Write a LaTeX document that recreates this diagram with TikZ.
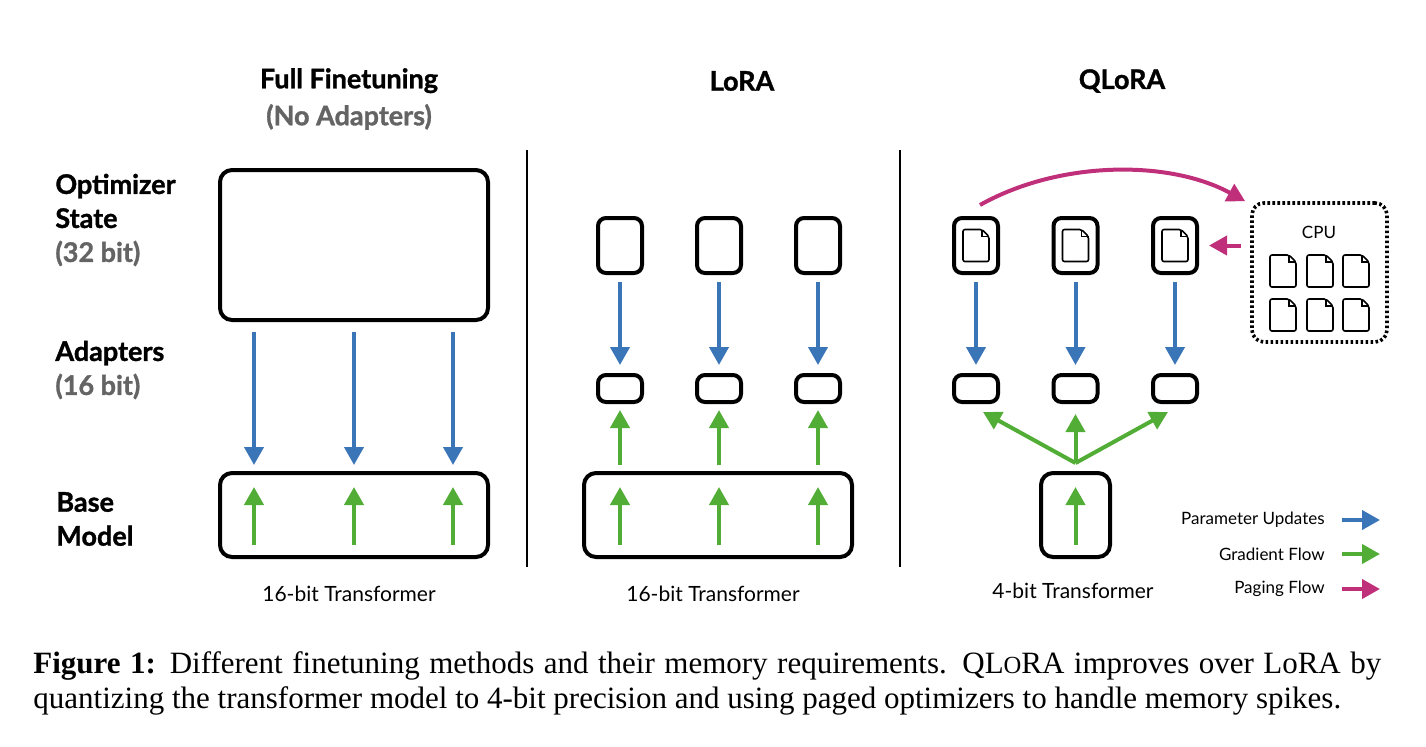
\documentclass[tikz,border=0pt]{standalone}
\usepackage{fontspec}
\setmainfont{Liberation Serif}
\newfontfamily\avfont{Lato}
\newfontfamily\heavyfont[BoldFeatures={FakeBold=1.2}]{Lato}
\usetikzlibrary{arrows.meta,positioning}

\definecolor{updblue}{RGB}{58,117,184}
\definecolor{gradgreen}{RGB}{82,173,54}
\definecolor{pagpink}{RGB}{192,48,122}
\definecolor{labgray}{RGB}{100,100,100}

\tikzset{pagefile/.pic={
    \draw[line width=0.8pt,rounded corners=1pt] (-6.5pt,-8pt) -- (-6.5pt,8pt) -- (3pt,8pt) -- (6.5pt,4.5pt) -- (6.5pt,-8pt) -- cycle;
    \draw[line width=0.6pt] (3pt,8pt) -- (3pt,4.5pt) -- (6.5pt,4.5pt);
}}

\begin{document}
\begin{tikzpicture}[x=0.5pt,y=-0.5pt,
    box/.style={draw,line width=2pt,rounded corners=6pt,inner sep=0pt},
    sbox/.style={box,rounded corners=4pt,minimum width=22pt},
    upd/.style={updblue,line width=2pt,-{Triangle[width=9.5pt,length=9pt]}},
    grad/.style={gradgreen,line width=2pt,-{Triangle[width=9.5pt,length=9pt]}},
    pag/.style={pagpink,line width=2pt,-{Triangle[width=9.5pt,length=9pt]}},
    head/.style={font=\heavyfont\bfseries\fontsize{13.5}{18.5}\selectfont,align=center},
    rowlab/.style={font=\heavyfont\bfseries\fontsize{13.5}{17}\selectfont,align=left,anchor=west,inner sep=0pt},
    sub/.style={font=\avfont\fontsize{10.5}{12}\selectfont},
    legend/.style={font=\avfont\fontsize{8.5}{10}\selectfont,anchor=east,inner sep=0pt}]
  \useasboundingbox (0,0) rectangle (1426,746);

  % column titles and separators
  \node[head] (tfull) at (349,99) {Full Finetuning\\\textcolor{labgray}{(No Adapters)}};
  \node[head] (tlora) at (742,81) {LoRA};
  \node[head] (tqlora) at (1122,81) {QLoRA};
  \draw[line width=0.8pt] (527,150) -- (527,567) (900,150) -- (900,567);

  % row labels
  \node[rowlab] (lopt) at (55,220) {Optimizer\\State\\\textcolor{labgray}{(32 bit)}};
  \node[rowlab] (lada) at (55,370) {Adapters\\\textcolor{labgray}{(16 bit)}};
  \node[rowlab] (lbas) at (56,519) {Base\\Model};

  % full finetuning
  \node[box,minimum width=134pt,minimum height=75pt] (fopt) at (354,245) {};
  \node[box,minimum width=134pt,minimum height=42pt] (fbase) at (354,515) {};
  \foreach \x in {254,354,453} {
    \draw[upd,shorten <=5pt,shorten >=3pt] (fopt.south -| \x,0) -- (fbase.north -| \x,0);
    \draw[grad] (fbase.south -| \x,0) ++(0,-14) -- ++(0,-58);
  }
  \node[sub] (nfull) at (349,594) {16-bit Transformer};

  % lora
  \foreach \i/\x in {1/620,2/719,3/818} {
    \node[sbox,minimum height=27.5pt] (lo\i) at (\x,245.5) {};
    \node[sbox,minimum height=13.5pt] (la\i) at (\x,388.5) {};
  }
  \node[box,minimum width=134pt,minimum height=42pt] (lbase) at (718,515) {};
  \foreach \i in {1,2,3} {
    \draw[upd,shorten <=3.5pt,shorten >=4pt] (lo\i) -- (la\i);
    \draw[grad,shorten <=3pt,shorten >=3pt] (lbase.north -| la\i) -- (la\i.south);
    \draw[grad] (lbase.south -| la\i) ++(0,-14) -- ++(0,-58);
  }
  \node[sub] (nlora) at (713,594) {16-bit Transformer};

  % qlora
  \foreach \i/\x in {1/976,2/1075.5,3/1175} {
    \node[sbox,minimum height=27.5pt] (q\i) at (\x,245.5) {};
    \pic at (q\i) {pagefile};
    \node[sbox,minimum height=13.5pt] (qa\i) at (\x,388.5) {};
    \draw[upd,shorten <=3.5pt,shorten >=4pt] (q\i) -- (qa\i);
  }
  \node[box,minimum width=34.5pt,minimum height=42pt] (qbase) at (1075.5,515) {};
  \coordinate (fan) at ([yshift=4pt]qbase.north);
  \draw[grad] (fan) -- ([xshift=3.5pt,yshift=-4pt]qa1.south);
  \draw[grad] (fan) -- ([yshift=-5pt]qa2.south);
  \draw[grad] (fan) -- ([xshift=-3.5pt,yshift=-4pt]qa3.south);
  \draw[grad] (qbase.south) ++(0,-14) -- ++(0,-58);
  \node[sub] (nqlora) at (1073,591) {4-bit Transformer};

  % cpu with paged files
  \node[draw,line width=1.8pt,dash pattern=on 1.3pt off 1.2pt,rounded corners=6pt,
    minimum width=67.5pt,minimum height=69.5pt] (cpu) at (1319.5,272.5) {};
  \node[font=\avfont\fontsize{8.5}{10}\selectfont] (cpulab) at (1319,232) {CPU};
  \foreach \x in {1283,1320,1356}
    \foreach \y in {271,315}
      \pic at (\x,\y) {pagefile};
  \draw[pag] ([xshift=2pt,yshift=5.5pt]q1.north) .. controls (1060,160) and (1170,160) .. ([xshift=-2.5pt]cpu.north west);
  \draw[pag,shorten <=4.5pt,shorten >=5pt] (cpu.west |- q3) -- (q3.east);

  % legend
  \node[legend] (kupd) at (1325,520) {Parameter Updates};
  \node[legend] (kgrad) at (1325,554) {Gradient Flow};
  \node[legend] (kpag) at (1325,589) {Paging Flow};
  \draw[upd] ([xshift=8.5pt]kupd.east) -- ++(38,0);
  \draw[grad] ([xshift=8.5pt]kgrad.east) -- ++(38,0);
  \draw[pag] ([xshift=8.5pt]kpag.east) -- ++(38,0);

  % caption
  \node[anchor=north west,text width=674pt,align=justify,inner sep=0pt,
    font=\fontsize{15.5}{17.5}\selectfont] (cap) at (33,651)
    {\textbf{Figure 1:} Different finetuning methods and their memory requirements. QL{\fontsize{12.3}{12}\selectfont O}RA improves over LoRA by\linebreak quantizing the transformer model to 4-bit precision and using paged optimizers to handle memory spikes.};
\end{tikzpicture}
\end{document}
